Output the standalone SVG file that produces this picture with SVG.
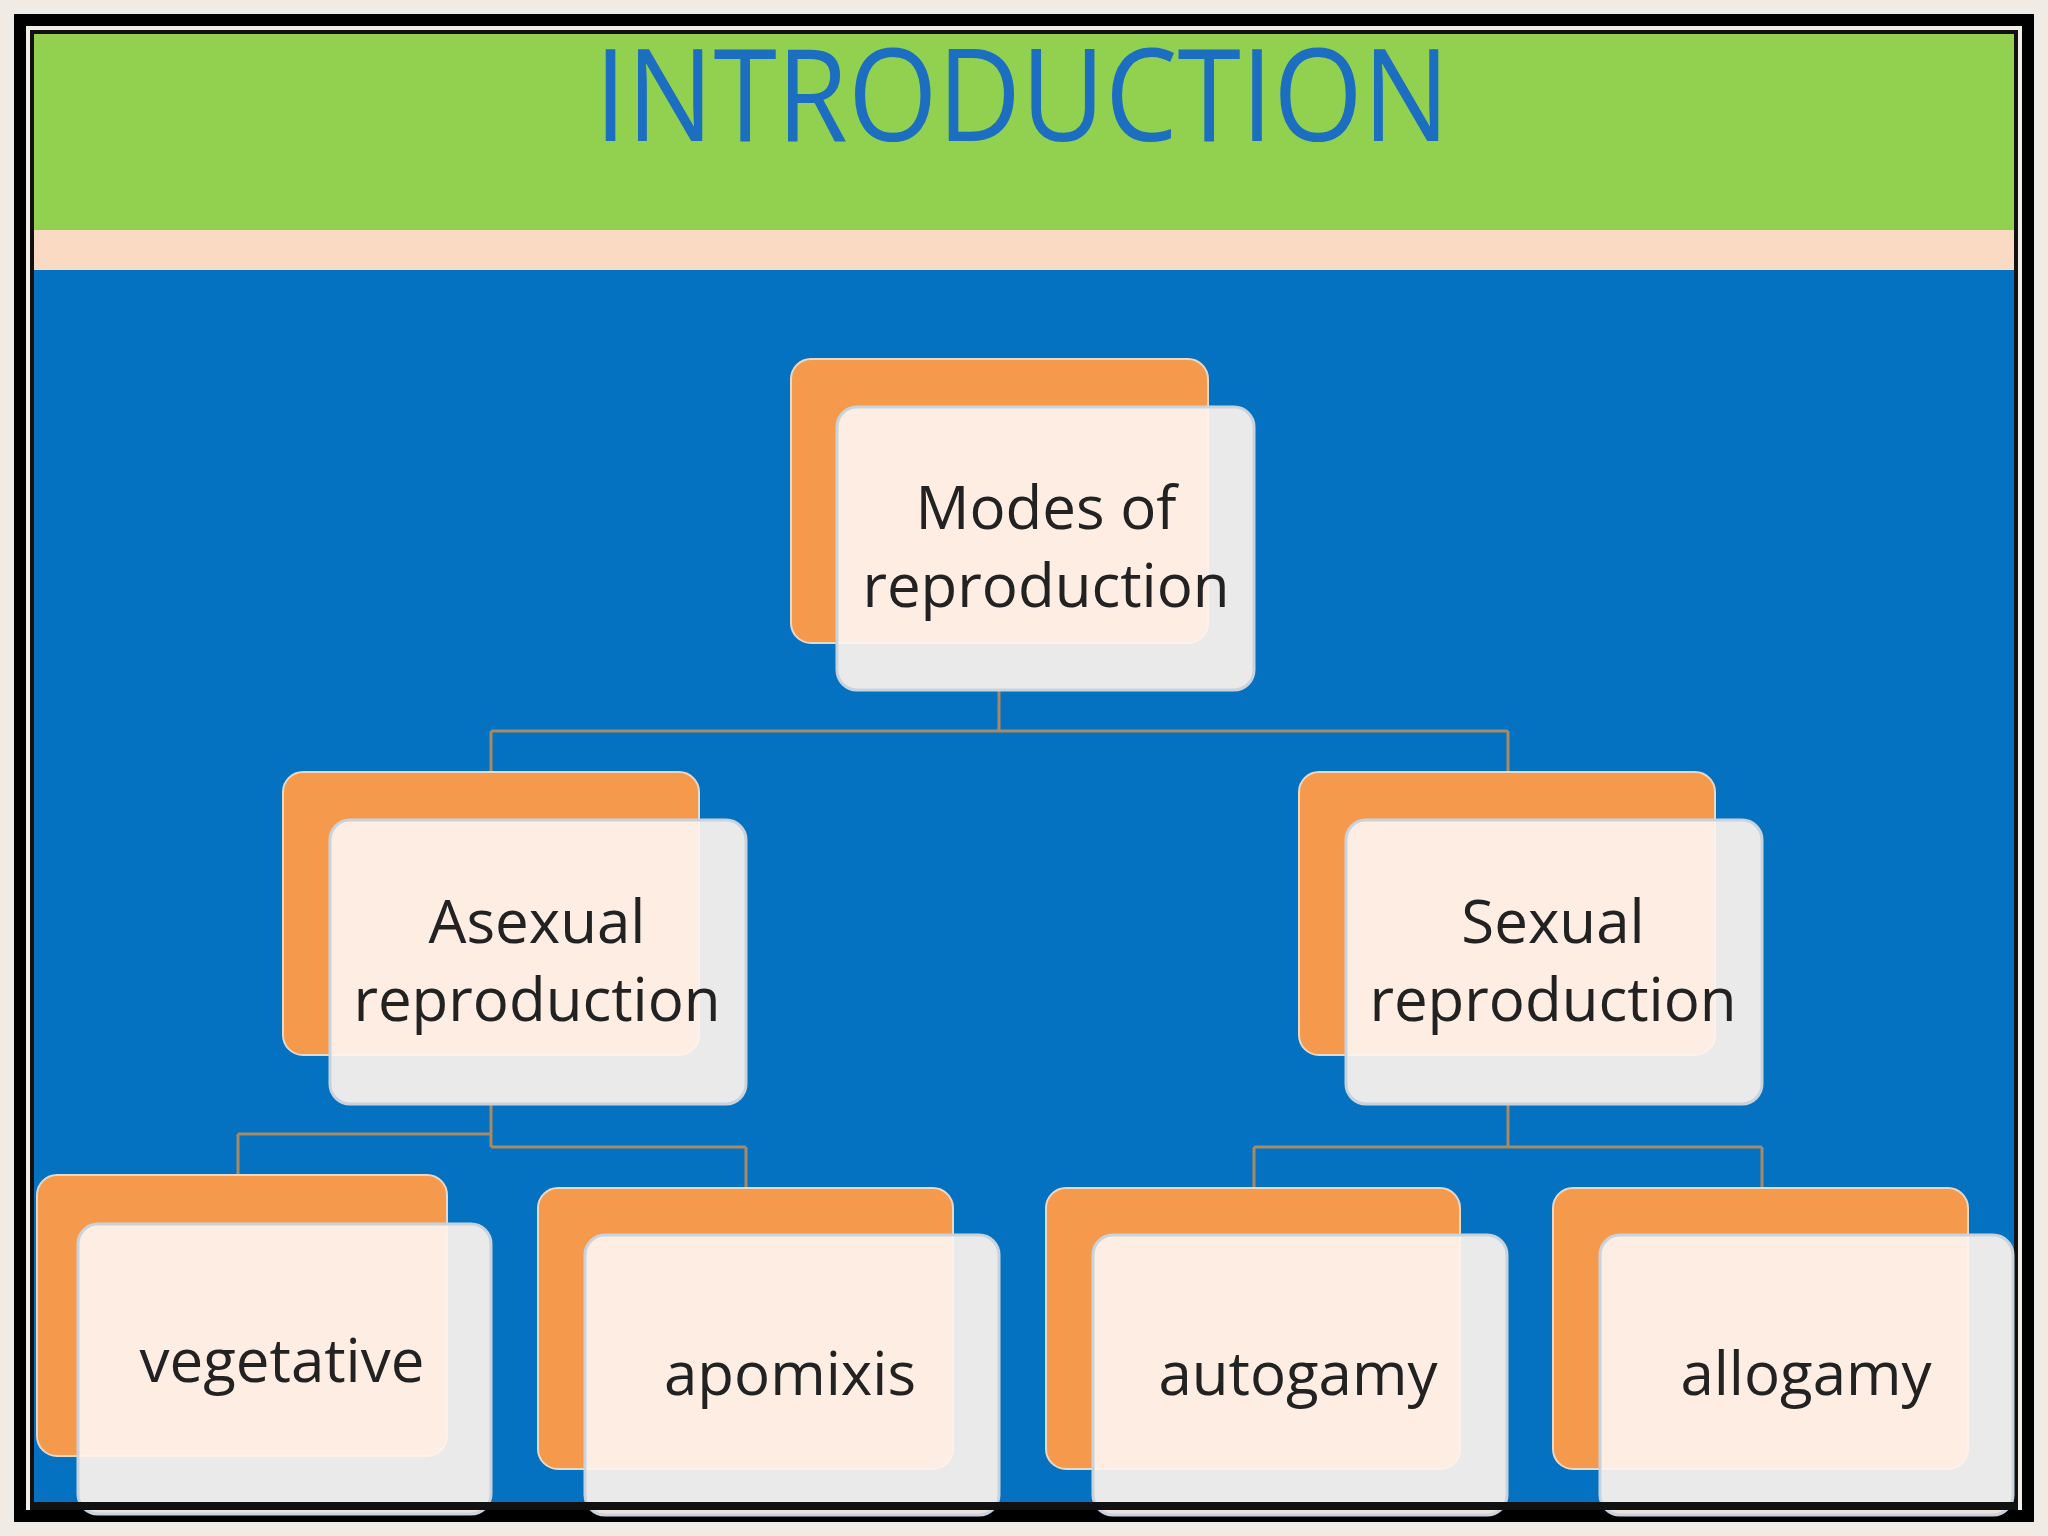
<svg xmlns="http://www.w3.org/2000/svg" width="2048" height="1536" viewBox="0 0 2048 1536">
<style>
.b{fill:#f59a4c;stroke:#e8d8c8;stroke-width:2}
.f{fill:#fdf3ee;fill-opacity:0.93;stroke:#c9d3de;stroke-width:3}
.t{font-family:"Open Sans","Liberation Sans",sans-serif;font-size:60px;fill:#222;text-anchor:middle}
.c{fill:none;stroke:#a88a66;stroke-width:3}
</style>
<rect width="2048" height="1536" fill="#f0ebe5"/>
<rect x="14" y="14" width="2020" height="1508" fill="#000"/>
<rect x="26" y="26" width="1996" height="1484" fill="#f3efe6"/>
<rect x="30" y="30" width="1988" height="1476" fill="#111"/>
<rect x="34" y="34" width="1980" height="1468" fill="#0572c1"/>
<rect x="34" y="34" width="1980" height="196" fill="#92d050"/>
<rect x="34" y="230" width="1980" height="40" fill="#fbdac3"/>
<text x="1022" y="141" font-family="'Open Sans','Liberation Sans',sans-serif" font-size="128" fill="#1c6fc0" text-anchor="middle" textLength="855" lengthAdjust="spacingAndGlyphs">INTRODUCTION</text>
<g id="connectors">
<path class="c" d="M999 690V731M491 731H1508M491 731V772M1508 731V772"/>
<path class="c" d="M491 1104V1147M238 1134H491M491 1147H746M238 1134V1175M746 1147V1188"/>
<path class="c" d="M1508 1104V1147M1254 1147H1762M1254 1147V1188M1762 1147V1188"/>
</g>
<g id="root"><rect class="b" x="791" y="359" width="417" height="284" rx="20"/><rect class="f" x="837" y="407" width="417" height="283" rx="20"/><text class="t" x="1046" y="529">Modes of</text><text class="t" x="1046" y="607">reproduction</text></g>
<g id="asexual"><rect class="b" x="283" y="772" width="416" height="283" rx="20"/><rect class="f" x="330" y="820" width="416" height="284" rx="20"/><text class="t" x="537" y="943">Asexual</text><text class="t" x="537" y="1021">reproduction</text></g>
<g id="sexual"><rect class="b" x="1299" y="772" width="416" height="283" rx="20"/><rect class="f" x="1346" y="820" width="416" height="284" rx="20"/><text class="t" x="1553" y="943">Sexual</text><text class="t" x="1553" y="1021">reproduction</text></g>
<g id="vegetative"><rect class="b" x="37" y="1175" width="410" height="281" rx="20"/><rect class="f" x="78" y="1224" width="413" height="290" rx="20"/><text class="t" x="282" y="1382">vegetative</text></g>
<g id="apomixis"><rect class="b" x="538" y="1188" width="415" height="281" rx="20"/><rect class="f" x="585" y="1235" width="414" height="280" rx="20"/><text class="t" x="790" y="1395">apomixis</text></g>
<g id="autogamy"><rect class="b" x="1046" y="1188" width="414" height="281" rx="20"/><rect class="f" x="1093" y="1235" width="414" height="280" rx="20"/><text class="t" x="1298" y="1395">autogamy</text></g>
<g id="allogamy"><rect class="b" x="1553" y="1188" width="415" height="281" rx="20"/><rect class="f" x="1600" y="1235" width="413" height="280" rx="20"/><text class="t" x="1806" y="1395">allogamy</text></g>
<rect x="30" y="1502" width="1988" height="8" fill="#111"/>
</svg>
